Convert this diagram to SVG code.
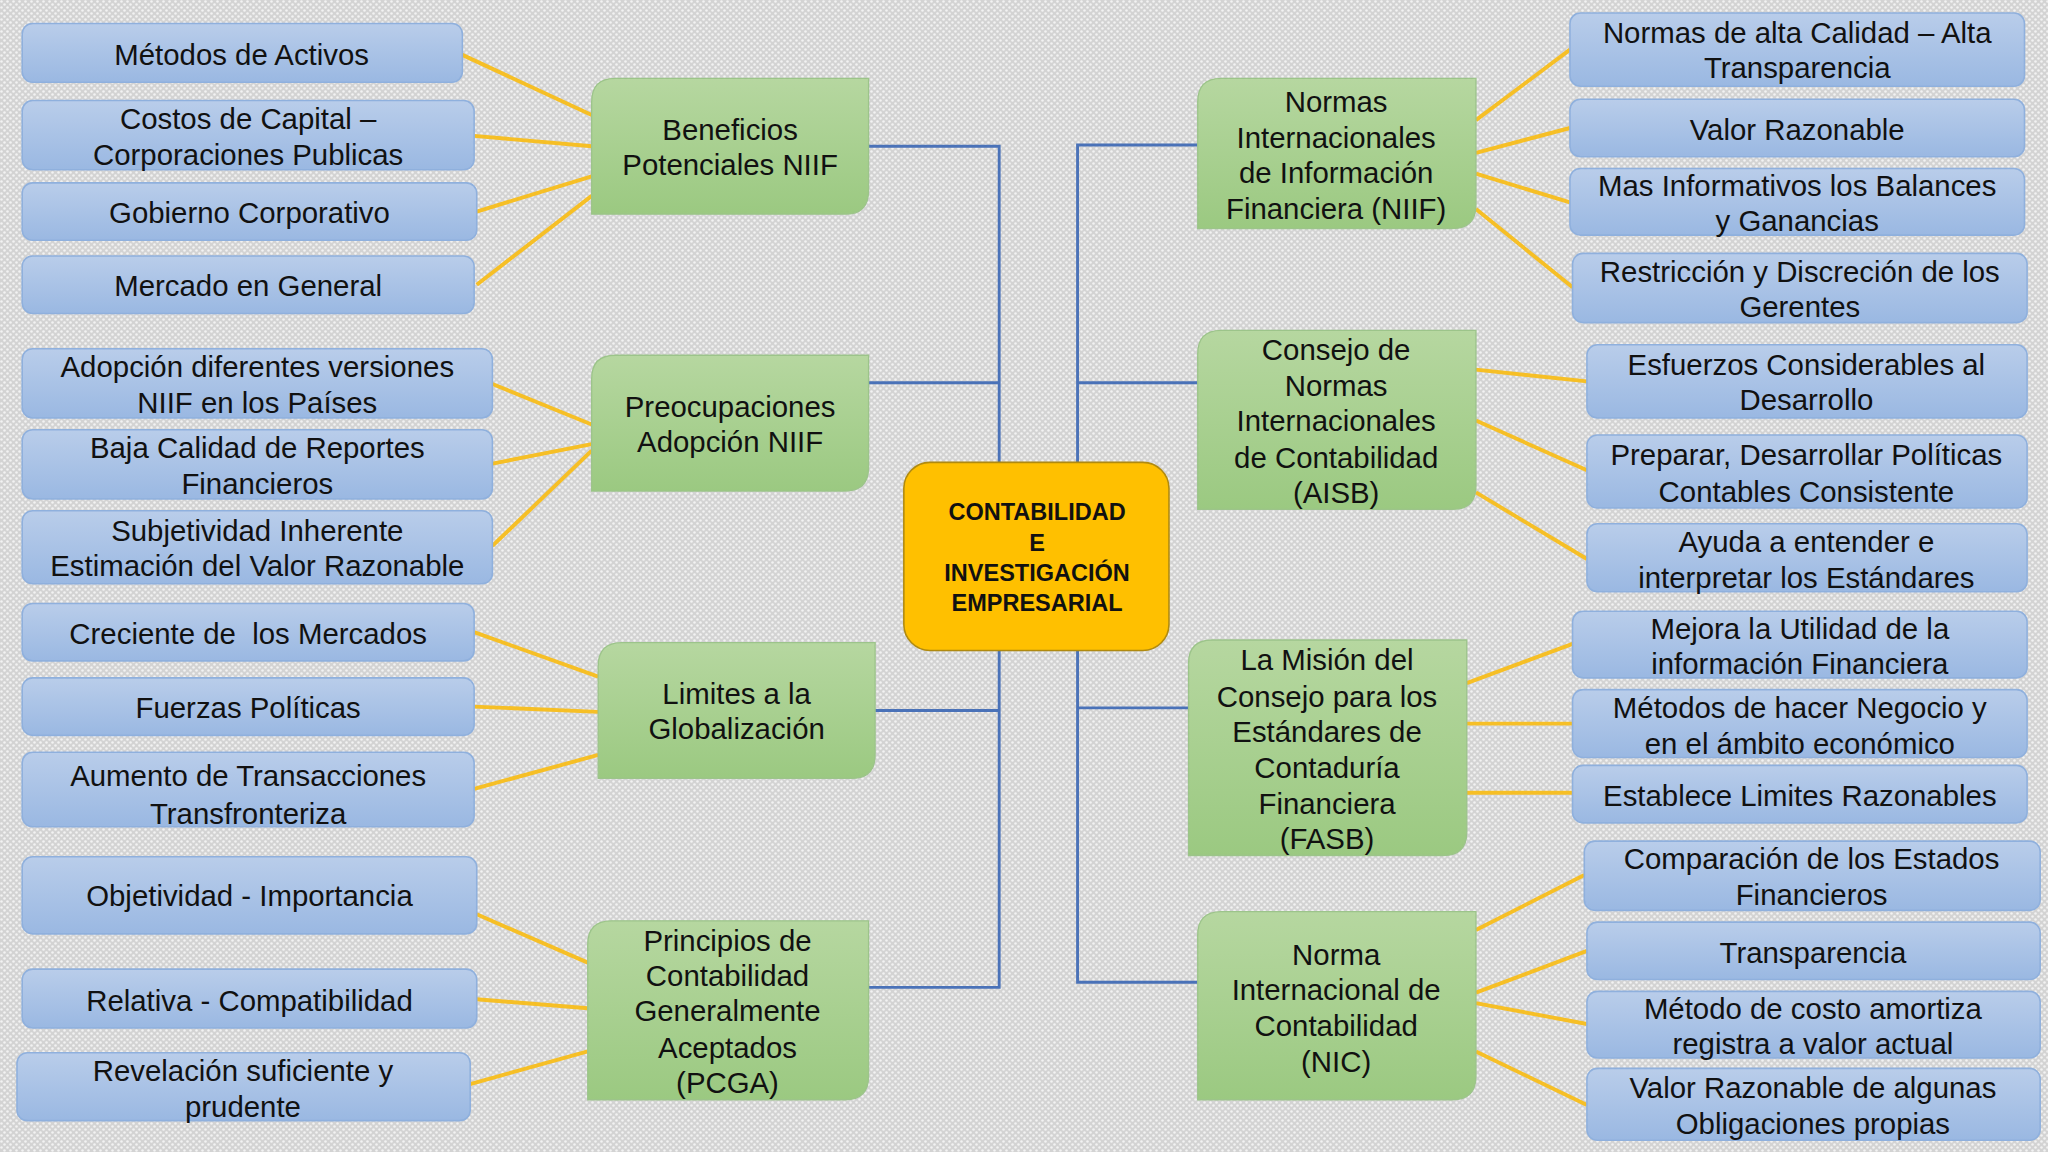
<svg xmlns="http://www.w3.org/2000/svg" width="2048" height="1152" viewBox="0 0 2048 1152">
<defs>
<pattern id="bg" width="6" height="6" patternUnits="userSpaceOnUse"><rect width="6" height="6" fill="#d3d3d3"/><circle cx="1.5" cy="1.5" r="1.3" fill="#f2f2f2"/><circle cx="4.5" cy="4.5" r="1.3" fill="#f2f2f2"/></pattern>
<linearGradient id="gb" x1="0" y1="0" x2="0" y2="1"><stop offset="0" stop-color="#b9cdea"/><stop offset="1" stop-color="#9ab8e2"/></linearGradient>
<linearGradient id="gg" x1="0" y1="0" x2="0" y2="1"><stop offset="0" stop-color="#b6d7a0"/><stop offset="1" stop-color="#9bc981"/></linearGradient>
<style>
.b{fill:url(#gb);stroke:#8fb0dd;stroke-width:1.2}
.g{fill:url(#gg);stroke:#9cc48a;stroke-width:1}
.t{font-family:"Liberation Sans",Arial,sans-serif;font-size:22.5px;fill:#111;text-anchor:middle}
.c{font-family:"Liberation Sans",Arial,sans-serif;font-size:18px;font-weight:bold;fill:#111;text-anchor:middle}
.y{stroke:#f6bf26;stroke-width:3;fill:none}
.bl{stroke:#4a72b8;stroke-width:2.2;fill:none}
</style>
</defs>
<rect width="2048" height="1152" fill="url(#bg)"/>
<g transform="scale(1.30612)">
<g id="connectors">
<path class="bl" d="M665 112H765V756H665M665 293H765M670 544H765M917 111H825V752H917M825 293H917M825 542H917"/>
<path class="y" d="M453 88L354 42M453 112L363 104M453 135L365 162M453 150L365 218M453 325L377 294M453 340L377 355M453 345L377 418M458 518L363 484M458 545L363 541M458 578L363 604M450 737L365 700M450 772L365 765M450 805L360 830M1130 92L1202 38M1130 117L1202 98M1130 133L1202 155M1130 160L1204 220M1130 283L1215 292M1130 322L1215 360M1130 377L1215 428M1123 523L1204 493M1123 554L1204 554M1123 607L1204 607M1130 712L1213 670M1130 760L1215 728M1130 768L1215 784M1130 805L1215 846"/>
</g>
<g id="center"><rect x="692" y="354" width="203" height="144" rx="20" fill="#ffc000" stroke="#b08a10" stroke-width="1.2"/>
<text class="c" x="794" y="398">CONTABILIDAD</text><text class="c" x="794" y="422">E</text><text class="c" x="794" y="445">INVESTIGACIÓN</text><text class="c" x="794" y="468">EMPRESARIAL</text></g>

<g id="nA"><path class="g" d="M471 60H665V146Q665 164 647 164H453V78Q453 60 471 60Z"/><text class="t" x="559" y="107">Beneficios</text><text class="t" x="559" y="134">Potenciales NIIF</text></g>
<g id="nB"><path class="g" d="M471 272H665V358Q665 376 647 376H453V290Q453 272 471 272Z"/><text class="t" x="559" y="319">Preocupaciones</text><text class="t" x="559" y="346">Adopción NIIF</text></g>
<g id="nC"><path class="g" d="M476 492H670V578Q670 596 652 596H458V510Q458 492 476 492Z"/><text class="t" x="564" y="539">Limites a la</text><text class="t" x="564" y="566">Globalización</text></g>
<g id="nD"><path class="g" d="M468 705H665V824Q665 842 647 842H450V723Q450 705 468 705Z"/><text class="t" x="557" y="728">Principios de</text><text class="t" x="557" y="755">Contabilidad</text><text class="t" x="557" y="782">Generalmente</text><text class="t" x="557" y="810">Aceptados</text><text class="t" x="557" y="837">(PCGA)</text></g>
<g id="nE"><path class="g" d="M935 60H1130V157Q1130 175 1112 175H917V78Q917 60 935 60Z"/><text class="t" x="1023" y="86">Normas</text><text class="t" x="1023" y="113">Internacionales</text><text class="t" x="1023" y="140">de Información</text><text class="t" x="1023" y="168">Financiera (NIIF)</text></g>
<g id="nF"><path class="g" d="M935 253H1130V372Q1130 390 1112 390H917V271Q917 253 935 253Z"/><text class="t" x="1023" y="276">Consejo de</text><text class="t" x="1023" y="303">Normas</text><text class="t" x="1023" y="330">Internacionales</text><text class="t" x="1023" y="358">de Contabilidad</text><text class="t" x="1023" y="385">(AISB)</text></g>
<g id="nG"><path class="g" d="M928 490H1123V637Q1123 655 1105 655H910V508Q910 490 928 490Z"/><text class="t" x="1016" y="513">La Misión del</text><text class="t" x="1016" y="541">Consejo para los</text><text class="t" x="1016" y="568">Estándares de</text><text class="t" x="1016" y="596">Contaduría</text><text class="t" x="1016" y="623">Financiera</text><text class="t" x="1016" y="650">(FASB)</text></g>
<g id="nH"><path class="g" d="M935 698H1130V824Q1130 842 1112 842H917V716Q917 698 935 698Z"/><text class="t" x="1023" y="739">Norma</text><text class="t" x="1023" y="766">Internacional de</text><text class="t" x="1023" y="793">Contabilidad</text><text class="t" x="1023" y="821">(NIC)</text></g>

<g id="l1"><rect class="b" x="17" y="18" width="337" height="45" rx="8"/><text class="t" x="185" y="50">Métodos de Activos</text></g>
<g id="l2"><rect class="b" x="17" y="77" width="346" height="53" rx="8"/><text class="t" x="190" y="99">Costos de Capital –</text><text class="t" x="190" y="126">Corporaciones Publicas</text></g>
<g id="l3"><rect class="b" x="17" y="140" width="348" height="44" rx="8"/><text class="t" x="191" y="171">Gobierno Corporativo</text></g>
<g id="l4"><rect class="b" x="17" y="196" width="346" height="44" rx="8"/><text class="t" x="190" y="227">Mercado en General</text></g>
<g id="l5"><rect class="b" x="17" y="267" width="360" height="53" rx="8"/><text class="t" x="197" y="289">Adopción diferentes versiones</text><text class="t" x="197" y="316">NIIF en los Países</text></g>
<g id="l6"><rect class="b" x="17" y="329" width="360" height="53" rx="8"/><text class="t" x="197" y="351">Baja Calidad de Reportes</text><text class="t" x="197" y="378">Financieros</text></g>
<g id="l7"><rect class="b" x="17" y="391" width="360" height="56" rx="8"/><text class="t" x="197" y="414">Subjetividad Inherente</text><text class="t" x="197" y="441">Estimación del Valor Razonable</text></g>
<g id="l8"><rect class="b" x="17" y="462" width="346" height="44" rx="8"/><text class="t" x="190" y="493">Creciente de&#160; los Mercados</text></g>
<g id="l9"><rect class="b" x="17" y="519" width="346" height="44" rx="8"/><text class="t" x="190" y="550">Fuerzas Políticas</text></g>
<g id="l10"><rect class="b" x="17" y="576" width="346" height="57" rx="8"/><text class="t" x="190" y="602">Aumento de Transacciones</text><text class="t" x="190" y="631">Transfronteriza</text></g>
<g id="l11"><rect class="b" x="17" y="656" width="348" height="59" rx="8"/><text class="t" x="191" y="694">Objetividad - Importancia</text></g>
<g id="l12"><rect class="b" x="17" y="742" width="348" height="45" rx="8"/><text class="t" x="191" y="774">Relativa - Compatibilidad</text></g>
<g id="l13"><rect class="b" x="13" y="806" width="347" height="52" rx="8"/><text class="t" x="186" y="828">Revelación suficiente y</text><text class="t" x="186" y="855">prudente</text></g>

<g id="r1"><rect class="b" x="1202" y="10" width="348" height="56" rx="8"/><text class="t" x="1376" y="33">Normas de alta Calidad – Alta</text><text class="t" x="1376" y="60">Transparencia</text></g>
<g id="r2"><rect class="b" x="1202" y="76" width="348" height="44" rx="8"/><text class="t" x="1376" y="107">Valor Razonable</text></g>
<g id="r3"><rect class="b" x="1202" y="129" width="348" height="51" rx="8"/><text class="t" x="1376" y="150">Mas Informativos los Balances</text><text class="t" x="1376" y="177">y Ganancias</text></g>
<g id="r4"><rect class="b" x="1204" y="194" width="348" height="53" rx="8"/><text class="t" x="1378" y="216">Restricción y Discreción de los</text><text class="t" x="1378" y="243">Gerentes</text></g>
<g id="r5"><rect class="b" x="1215" y="264" width="337" height="56" rx="8"/><text class="t" x="1383" y="287">Esfuerzos Considerables al</text><text class="t" x="1383" y="314">Desarrollo</text></g>
<g id="r6"><rect class="b" x="1215" y="333" width="337" height="56" rx="8"/><text class="t" x="1383" y="356">Preparar, Desarrollar Políticas</text><text class="t" x="1383" y="384">Contables Consistente</text></g>
<g id="r7"><rect class="b" x="1215" y="401" width="337" height="52" rx="8"/><text class="t" x="1383" y="423">Ayuda a entender e</text><text class="t" x="1383" y="450">interpretar los Estándares</text></g>
<g id="r8"><rect class="b" x="1204" y="468" width="348" height="51" rx="8"/><text class="t" x="1378" y="489">Mejora la Utilidad de la</text><text class="t" x="1378" y="516">información Financiera</text></g>
<g id="r9"><rect class="b" x="1204" y="528" width="348" height="52" rx="8"/><text class="t" x="1378" y="550">Métodos de hacer Negocio y</text><text class="t" x="1378" y="577">en el ámbito económico</text></g>
<g id="r10"><rect class="b" x="1204" y="586" width="348" height="44" rx="8"/><text class="t" x="1378" y="617">Establece Limites Razonables</text></g>
<g id="r11"><rect class="b" x="1213" y="644" width="349" height="53" rx="8"/><text class="t" x="1387" y="665">Comparación de los Estados</text><text class="t" x="1387" y="693">Financieros</text></g>
<g id="r12"><rect class="b" x="1215" y="706" width="347" height="44" rx="8"/><text class="t" x="1388" y="737">Transparencia</text></g>
<g id="r13"><rect class="b" x="1215" y="759" width="347" height="51" rx="8"/><text class="t" x="1388" y="780">Método de costo amortiza</text><text class="t" x="1388" y="807">registra a valor actual</text></g>
<g id="r14"><rect class="b" x="1215" y="818" width="347" height="55" rx="8"/><text class="t" x="1388" y="841">Valor Razonable de algunas</text><text class="t" x="1388" y="868">Obligaciones propias</text></g>
</g>
</svg>
